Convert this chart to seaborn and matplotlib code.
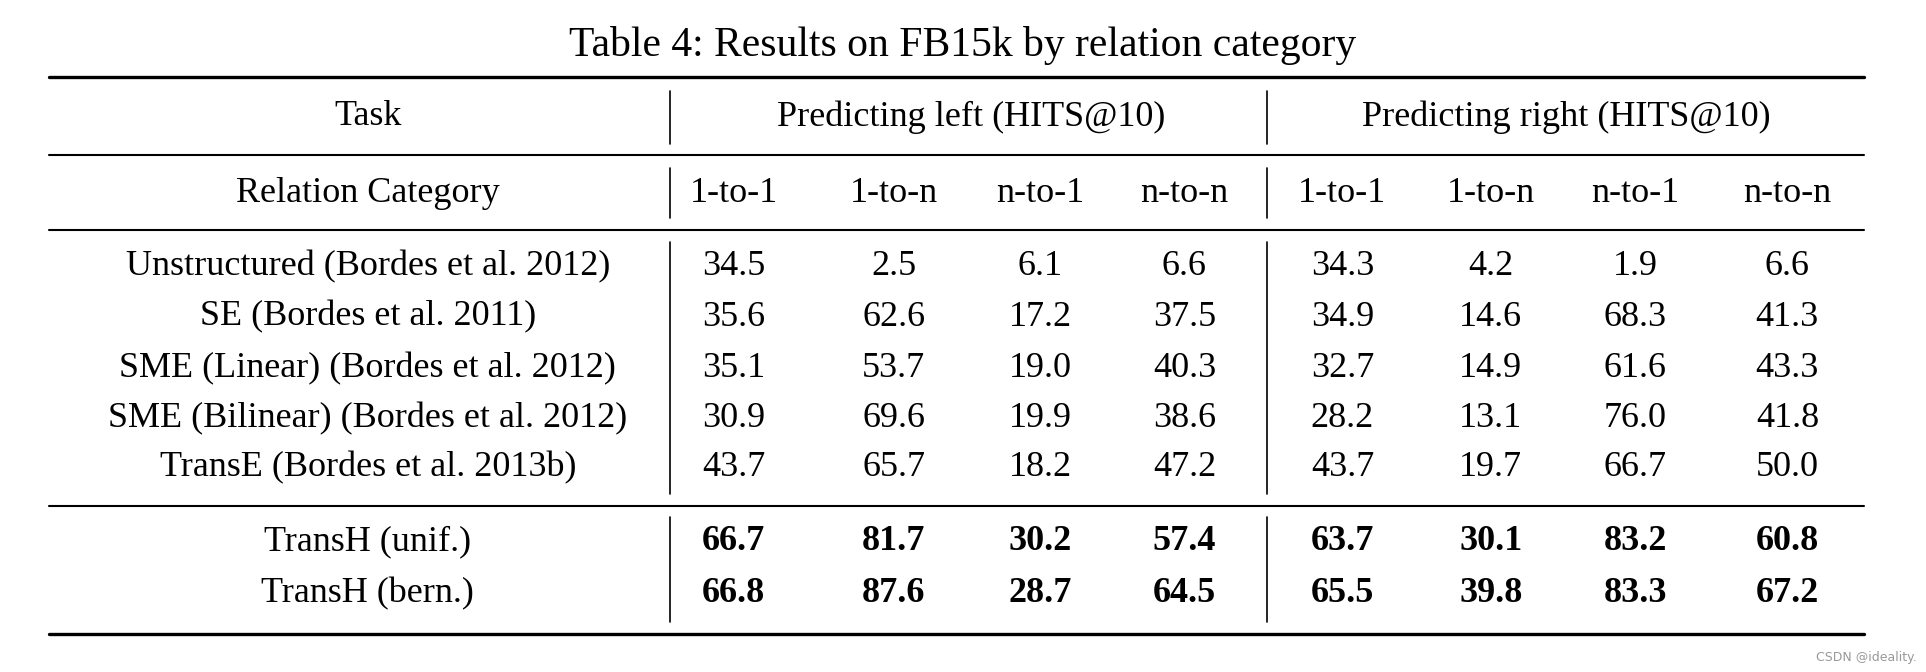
import matplotlib
matplotlib.use("Agg")
import matplotlib.pyplot as plt
import seaborn as sns

sns.set_theme(style="white")
plt.rcParams['font.family'] = ['Liberation Serif', 'DejaVu Serif']
plt.rcParams['text.color'] = 'black'

# table content
title = "Table 4: Results on FB15k by relation category"
categories = ["1-to-1", "1-to-n", "n-to-1", "n-to-n"]
methods = ["Unstructured (Bordes et al. 2012)", "SE (Bordes et al. 2011)",
           "SME (Linear) (Bordes et al. 2012)", "SME (Bilinear) (Bordes et al. 2012)",
           "TransE (Bordes et al. 2013b)"]
left_vals = [[34.5, 2.5, 6.1, 6.6], [35.6, 62.6, 17.2, 37.5], [35.1, 53.7, 19.0, 40.3],
             [30.9, 69.6, 19.9, 38.6], [43.7, 65.7, 18.2, 47.2]]
right_vals = [[34.3, 4.2, 1.9, 6.6], [34.9, 14.6, 68.3, 41.3], [32.7, 14.9, 61.6, 43.3],
              [28.2, 13.1, 76.0, 41.8], [43.7, 19.7, 66.7, 50.0]]
ours = ["TransH (unif.)", "TransH (bern.)"]
ours_left = [[66.7, 81.7, 30.2, 57.4], [66.8, 87.6, 28.7, 64.5]]
ours_right = [[63.7, 30.1, 83.2, 60.8], [65.5, 39.8, 83.3, 67.2]]

fig = plt.figure(figsize=(19.26, 6.72), dpi=100)
ax = fig.add_axes([0, 0, 1, 1])
ax.set_xlim(0, 1)
ax.set_ylim(1, 0)
ax.axis("off")

fs = 26
x0, x1 = 0.0255, 0.968
col_name = 0.191
col_x = [0.381, 0.464, 0.540, 0.615, 0.697, 0.774, 0.849, 0.928]
vbar = [0.348, 0.658]

ax.text(0.5, 0.068, title, ha="center", va="center", fontsize=30)

for y, lw in [(0.115, 2.4), (0.23, 1.5), (0.342, 1.5), (0.753, 1.5), (0.943, 2.4)]:
    ax.plot([x0, x1], [y, y], color="black", lw=lw)

for ya, yb in [(0.135, 0.215), (0.25, 0.325), (0.36, 0.735), (0.77, 0.925)]:
    for xv in vbar:
        ax.plot([xv, xv], [ya, yb], color="black", lw=1.2)

ax.text(col_name, 0.174, "Task", ha="center", va="center", fontsize=fs)
ax.text(0.504, 0.174, "Predicting left (HITS@10)", ha="center", va="center", fontsize=fs)
ax.text(0.813, 0.174, "Predicting right (HITS@10)", ha="center", va="center", fontsize=fs)
ax.text(col_name, 0.288, "Relation Category", ha="center", va="center", fontsize=fs)
for i, c in enumerate(categories * 2):
    ax.text(col_x[i], 0.288, c, ha="center", va="center", fontsize=fs)

rows_y = [0.397, 0.472, 0.548, 0.623, 0.696]
for y, m, l, r in zip(rows_y, methods, left_vals, right_vals):
    ax.text(col_name, y, m, ha="center", va="center", fontsize=fs)
    for i, v in enumerate(l + r):
        ax.text(col_x[i], y, f"{v:.1f}", ha="center", va="center", fontsize=fs)

for y, m, l, r in zip([0.806, 0.883], ours, ours_left, ours_right):
    ax.text(col_name, y, m, ha="center", va="center", fontsize=fs)
    for i, v in enumerate(l + r):
        ax.text(col_x[i], y, f"{v:.1f}", ha="center", va="center", fontsize=fs,
                fontweight="bold")

ax.text(0.995, 0.978, "CSDN @ideality.", ha="right", va="center", fontsize=9,
        color="#999999", family=["DejaVu Sans"])

fig.savefig("out.png", dpi=100, facecolor="white")
